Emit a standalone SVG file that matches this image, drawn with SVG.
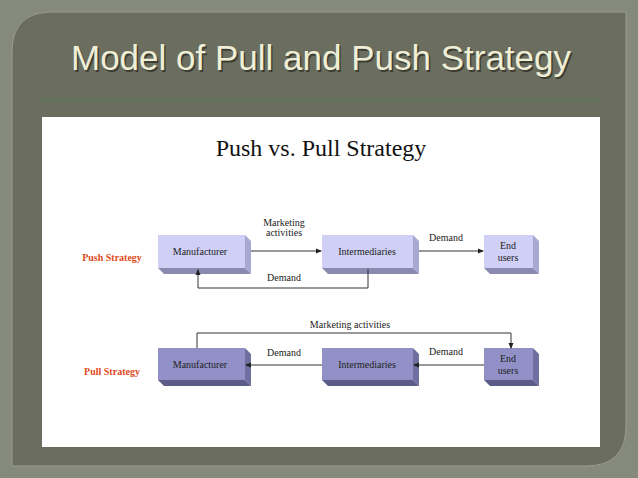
<svg xmlns="http://www.w3.org/2000/svg" width="638" height="478" viewBox="0 0 638 478">
<defs>
<style>
.t{font-family:"Liberation Serif",serif;font-size:10px;fill:#222;text-anchor:middle}
.ln{fill:none;stroke:#333;stroke-width:1}
.push .f{fill:#d0d0f6}.push .s{fill:#a8a8d0}.push .b{fill:#8a8ab0}
.pull .f{fill:#9191c8}.pull .s{fill:#7070a0}.pull .b{fill:#5c5c88}
</style>
<marker id="a" markerWidth="6" markerHeight="6" refX="5" refY="3" orient="auto"><path d="M0,0.5L6,3L0,5.5z" fill="#222"/></marker>
</defs>
<rect width="638" height="478" fill="#868a7a"/>
<path d="M52,12H626V426Q626,466 586,466H12V52Q12,12 52,12Z" fill="#6b6d5f" stroke="#9a9d8c"/>
<text x="321" y="70" font-family="Liberation Sans,Arial,sans-serif" font-size="35" fill="#1e1f18" text-anchor="middle" opacity="0.6" transform="translate(1.5,1.5)">Model of Pull and Push Strategy</text>
<text x="321" y="70" font-family="Liberation Sans,Arial,sans-serif" font-size="35" fill="#efeed6" text-anchor="middle">Model of Pull and Push Strategy</text>
<line x1="40" y1="100" x2="600" y2="100" stroke="#587a58" stroke-width="1.5"/>
<rect x="42" y="117" width="558" height="330" fill="#fff"/>
<text x="321" y="156" font-family="Liberation Serif,serif" font-size="24" fill="#111" text-anchor="middle">Push vs. Pull Strategy</text>
<text x="112" y="261" font-family="Liberation Serif,serif" font-size="10" font-weight="bold" fill="#e04a1a" text-anchor="middle">Push Strategy</text>
<text x="112" y="375" font-family="Liberation Serif,serif" font-size="10" font-weight="bold" fill="#e04a1a" text-anchor="middle">Pull Strategy</text>
<g id="push-manufacturer" class="push"><path class="s" d="M245,235l6,6v33l-6-6z"/><path class="b" d="M158,268h87l6,6h-87z"/><rect class="f" x="158" y="235" width="87" height="33"/><text class="t" x="200" y="255">Manufacturer</text></g>
<g id="push-intermediaries" class="push"><path class="s" d="M413,235l6,6v33l-6-6z"/><path class="b" d="M322,268h91l6,6h-91z"/><rect class="f" x="322" y="235" width="91" height="33"/><text class="t" x="367" y="255">Intermediaries</text></g>
<g id="push-endusers" class="push"><path class="s" d="M533,235l6,6v33l-6-6z"/><path class="b" d="M484,268h49l6,6h-49z"/><rect class="f" x="484" y="235" width="49" height="33"/><text class="t" x="508" y="249">End</text><text class="t" x="508" y="261">users</text></g>
<g id="pull-manufacturer" class="pull"><path class="s" d="M245,348l6,6v32l-6-6z"/><path class="b" d="M158,380h87l6,6h-87z"/><rect class="f" x="158" y="348" width="87" height="32"/><text class="t" x="200" y="368">Manufacturer</text></g>
<g id="pull-intermediaries" class="pull"><path class="s" d="M413,348l6,6v32l-6-6z"/><path class="b" d="M322,380h91l6,6h-91z"/><rect class="f" x="322" y="348" width="91" height="32"/><text class="t" x="367" y="368">Intermediaries</text></g>
<g id="pull-endusers" class="pull"><path class="s" d="M533,348l6,6v32l-6-6z"/><path class="b" d="M484,380h49l6,6h-49z"/><rect class="f" x="484" y="348" width="49" height="32"/><text class="t" x="508" y="362">End</text><text class="t" x="508" y="374">users</text></g>
<g id="connectors">
<line class="ln" x1="251" y1="251" x2="321" y2="251" marker-end="url(#a)"/>
<line class="ln" x1="419" y1="251" x2="483" y2="251" marker-end="url(#a)"/>
<path class="ln" d="M368,269V288H198V270" marker-end="url(#a)"/>
<path class="ln" d="M197,348V333H511V348" marker-end="url(#a)"/>
<line class="ln" x1="484" y1="365" x2="414" y2="365" marker-end="url(#a)"/>
<line class="ln" x1="322" y1="365" x2="246" y2="365" marker-end="url(#a)"/>
</g>
<text class="t" x="284" y="226">Marketing</text><text class="t" x="284" y="236">activities</text>
<text class="t" x="446" y="241">Demand</text>
<text class="t" x="284" y="281">Demand</text>
<text class="t" x="350" y="328">Marketing activities</text>
<text class="t" x="284" y="356">Demand</text>
<text class="t" x="446" y="355">Demand</text>
</svg>
